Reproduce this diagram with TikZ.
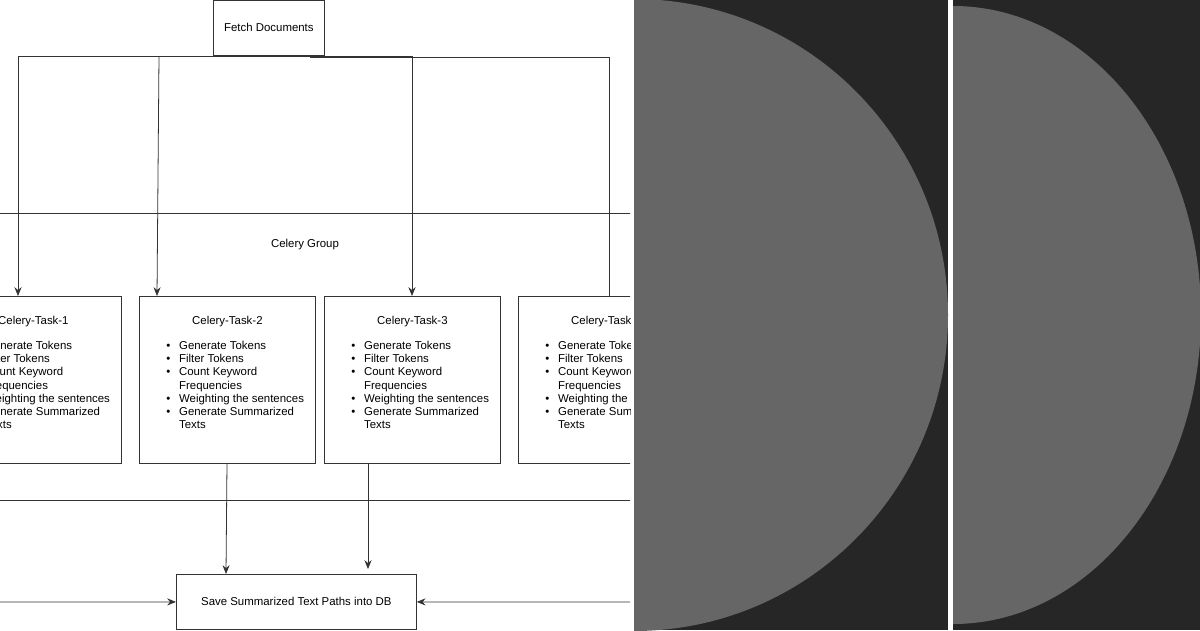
\documentclass[tikz,border=0pt]{standalone}
\usepackage{fontspec}
\setmainfont{Liberation Sans}
\usetikzlibrary{arrows.meta}
\tikzset{
  ln/.style={draw=black!80, line width=0.45pt},
  arr/.style={ln, -{Stealth[length=5pt,width=4pt]}},
  box/.style={ln, rectangle, anchor=north west, inner sep=0pt, minimum width=3.52cm, minimum height=3.34cm},
  txt/.style={font=\fontsize{6.5}{7.5}\selectfont, inner sep=0pt},
}
\newcommand{\tasklist}{{\renewcommand{\arraystretch}{1}\begin{tabular}{@{}l@{\hspace{5pt}}l@{}}
\textbullet & Generate Tokens\\
\textbullet & Filter Tokens\\
\textbullet & Count Keyword\\
 & Frequencies\\
\textbullet & Weighting the sentences\\
\textbullet & Generate Summarized\\
 & Texts
\end{tabular}}}
\begin{document}
\begin{tikzpicture}[x=0.02cm,y=-0.02cm]
\useasboundingbox (0,0) rectangle (1200,630);
\fill[white] (0,0) rectangle (1200,630);
% right panels
\begin{scope}
\clip (634,0) rectangle (948,630);
\fill[black!85] (634,0) rectangle (948,630);
\fill[black!60] (634,315) ellipse[x radius=314, y radius=316];
\end{scope}
\begin{scope}
\clip (953,0) rectangle (1200,630);
\fill[black!85] (953,0) rectangle (1200,630);
\fill[black!60] (953,315) ellipse[x radius=248, y radius=309];
\end{scope}
\begin{scope}
\clip (0,0) rectangle (630,630);
\node[ln, anchor=north west, inner sep=0pt, minimum width=2.22cm, minimum height=1.1cm, txt] (fetch) at (213,0) {Fetch Documents};
\draw[ln] (-10,213) -- (640,213);
\draw[ln] (-10,500) -- (640,500);
\node[txt] (grp) at (305,245) {Celery Group};
\node[box] (t1) at (-55,296) {};
\node[box] (t2) at (139,296) {};
\node[box] (t3) at (324,296) {};
\node[box] (t4) at (518,296) {};
\foreach \b/\n in {t1/1,t2/2,t3/3,t4/4}{
  \node[txt] (\b title) at ([yshift=-0.52cm]\b.north) {Celery-Task-\n};
  \node[txt, anchor=north west] (\b list) at ([xshift=0.54cm,yshift=-0.88cm]\b.north west) {\tasklist};
}
\coordinate (h1) at (18,56);
\coordinate (h2) at (158,56);
\coordinate (h3) at (412,56);
\coordinate (h4) at (609,57);
\draw[ln] (h1) -- (h3);
\draw[ln] (310,57) -- (h4);
\draw[arr] (h1) -- (h1 |- t1.north);
\draw[arr] (159,56) -- (157,296);
\draw[arr] (h3) -- (h3 |- t3.north);
\draw[ln] (h4) -- (h4 |- t4.north);
\node[ln, anchor=north west, inner sep=0pt, minimum width=4.8cm, minimum height=1.1cm, txt] (save) at (176,574) {Save Summarized Text Paths into DB};
\draw[arr] (227,463) -- (226,574);
\draw[arr] (368,463) -- (368,569);
\coordinate (lin) at (0,602);
\coordinate (rin) at (630,602);
\draw[arr] (lin) -- (save.west);
\draw[arr] (rin) -- (save.east);
\end{scope}
\end{tikzpicture}
\end{document}
